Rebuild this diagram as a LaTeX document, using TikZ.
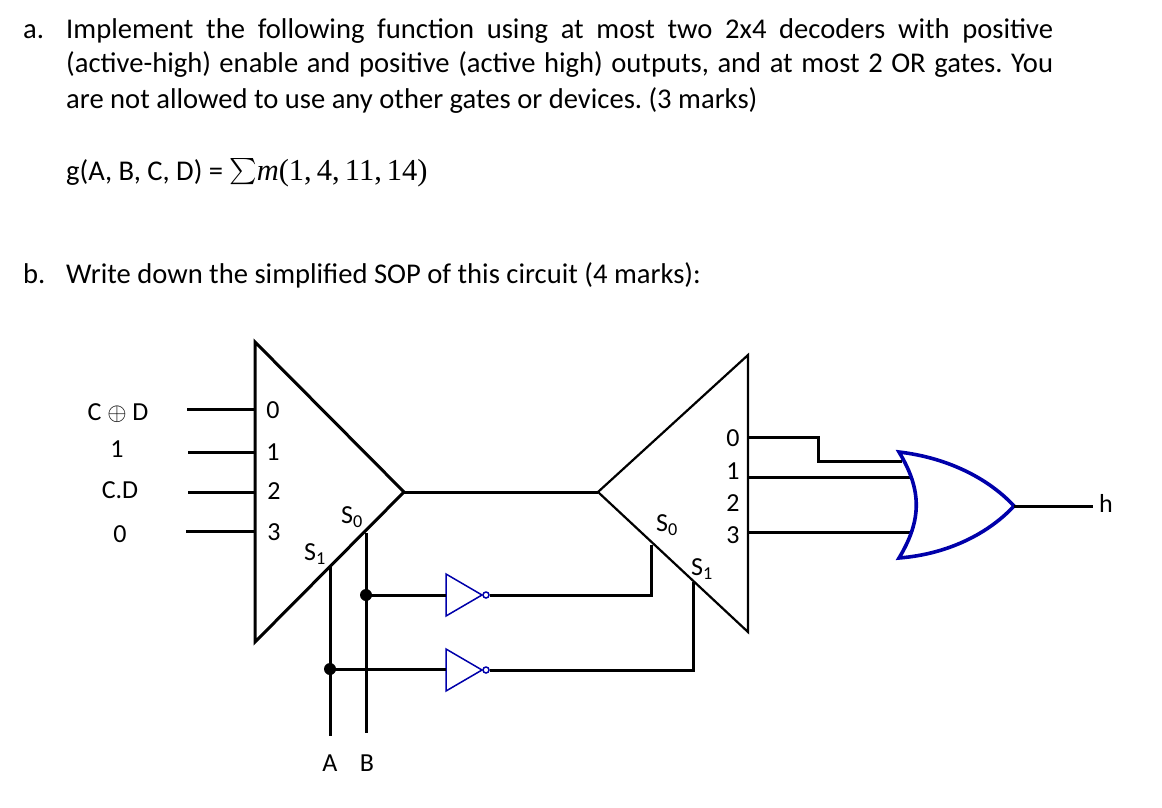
\documentclass[tikz,border=0pt]{standalone}
\usepackage{amsmath}
\usepackage{graphicx}
\usepackage[no-math]{fontspec}
\setmainfont{Carlito}
\newfontfamily\formulafont{Liberation Serif}
\definecolor{gateblue}{RGB}{0,0,170}
\tikzset{
  wire/.style={line width=3pt},
  box/.style={line width=3pt},
  gate/.style={draw=gateblue,line width=1.5pt},
  orgate/.style={draw=gateblue,line width=3.6pt,line join=miter},
  para/.style={anchor=base west,inner sep=0pt,font=\fontsize{28.6}{34}\selectfont\frenchspacing},
  lab/.style={inner sep=0pt,font=\fontsize{26}{30}\selectfont},
}
\begin{document}
\begin{tikzpicture}[x=1pt,y=-1pt]
      \useasboundingbox (0,0) rectangle (1162,808);
      \node[para] (qa) at (23,39) {a.};
      \node[para] (la) at (66,39) {\makebox[987pt][s]{Implement the following function using at most two 2x4 decoders with positive}};
      \node[para] (lb) at (66,73) {\makebox[987pt][s]{(active-high) enable and positive (active high) outputs, and at most 2 OR gates. You}};
      \node[para] (lc) at (66,108) {are not allowed to use any other gates or devices. (3 marks)};
      \node[para] (fn) at (66,180) {g(A, B, C, D) =};
      \node[para,font=\fontsize{30.5}{36}\selectfont\formulafont] (sm) at (229,180) {\raisebox{2pt}{\scalebox{1.05}{$\sum$}}\textit{m}(1,\,4,\,11,\,14)};
      \node[para] (qb) at (23,283) {b.};
      \node[para] (ld) at (66,283) {Write down the simplified SOP of this circuit (4 marks):};

      \coordinate (ltop) at (255,342);
      \coordinate (ltip) at (404,492);
      \coordinate (lbot) at (255,642);
      \draw[box,line join=miter] (ltop) -- (ltip) -- (lbot) -- cycle;
      \coordinate (rtop) at (748,355);
      \coordinate (rtip) at (598,492);
      \coordinate (rbot) at (748,632);
      \draw[box,line width=2.2pt] (rtop) -- (rtip) -- (rbot) -- cycle;
      \draw[wire] (ltip) -- (rtip);

      \node[lab] (xor) at (118,413) {C $\oplus$ D};
      \node[lab] (one) at (117,449) {1};
      \node[lab] (cd) at (120,490) {C.D};
      \node[lab] (zero) at (120,534) {0};
      \coordinate (i0) at (187,409);
      \coordinate (i1) at (188,452);
      \coordinate (i2) at (188,492);
      \coordinate (i3) at (186,531);
      \draw[wire] (i0) -- (i0 -| ltop);
      \draw[wire] (i1) -- (i1 -| ltop);
      \draw[wire] (i2) -- (i2 -| ltop);
      \draw[wire] (i3) -- (i3 -| ltop);
      \node[lab] (p0) at (273,410) {0};
      \node[lab] (p1) at (273,452) {1};
      \node[lab] (p2) at (274,491) {2};
      \node[lab] (p3) at (274,532) {3};
      \node[lab] (q0) at (733,438) {0};
      \node[lab] (q1) at (733,471) {1};
      \node[lab] (q2) at (733,503) {2};
      \node[lab] (q3) at (733,535) {3};

      \node[lab] (ls0) at (352,517) {S\textsubscript{0}};
      \node[lab] (ls1) at (315,554) {S\textsubscript{1}};
      \node[lab] (rs0) at (667,525) {S\textsubscript{0}};
      \node[lab] (rs1) at (702,569) {S\textsubscript{1}};

      \node[lab] (a) at (330,763) {A};
      \node[lab] (b) at (367,763) {B};
      \coordinate (as) at (330,567);
      \coordinate (ae) at (330,736);
      \coordinate (bs) at (366,533);
      \coordinate (be) at (366,733);
      \draw[wire] (as) -- (ae);
      \draw[wire] (bs) -- (be);
      \coordinate (bdot) at (366,595);
      \coordinate (adot) at (330,669);
      \fill (bdot) circle (6);
      \fill (adot) circle (6);

      % inverters
      \coordinate (n1a) at (446,574);
      \coordinate (n1b) at (446,616);
      \coordinate (n1c) at (482,595);
      \coordinate (n2a) at (446,649);
      \coordinate (n2b) at (446,691);
      \coordinate (n2c) at (482,670);
      \draw[gate] (n1a) -- (n1c) -- (n1b) -- cycle;
      \draw[gate] (n2a) -- (n2c) -- (n2b) -- cycle;
      \node[circle,gate,inner sep=0pt,minimum size=6pt] (c1) at (486,595) {};
      \node[circle,gate,inner sep=0pt,minimum size=6pt] (c2) at (486,670) {};
      \draw[wire] (bdot) -- (bdot -| n1a);
      \draw[wire] (adot) -- (adot -| n2a);
      \coordinate (s0r) at (651,545);
      \coordinate (s1r) at (693,582);
      \draw[wire] (c1) -- (c1 -| s0r) -- (s0r);
      \draw[wire] (c2) -- (c2 -| s1r) -- (s1r);

      % or gate
      \coordinate (gtop) at (899,452);
      \coordinate (gtip) at (1014,506);
      \coordinate (gbot) at (899,558);
      \coordinate (step0) at (818,437);
      \coordinate (step1) at (818,461);
      \coordinate (g0) at (902,461);
      \coordinate (g1) at (912,477);
      \coordinate (g3) at (912,532);
      \coordinate (hend) at (1093,506);
      \draw[wire] (g0) -- (step1) -- (step0) -- (step0 -| rtop);
      \draw[wire] (g1) -- (g1 -| rtop);
      \draw[wire] (g3) -- (g3 -| rtop);
      \draw[orgate] (gtop) .. controls (950,458) and (990,480) .. (gtip)
        .. controls (990,532) and (950,554) .. (gbot)
        .. controls (922,520) and (922,490) .. cycle;
      \draw[wire] (gtip) -- (hend);
      \node[lab] (h) at (1106,503) {h};
    \end{tikzpicture}
\end{document}
